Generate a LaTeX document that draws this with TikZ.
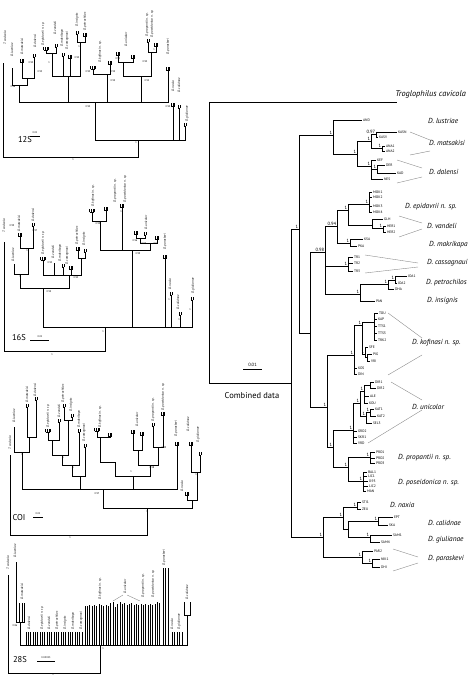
\documentclass[tikz,border=0pt]{standalone}
\usepackage{fontspec}
\setmainfont{PT Sans}
\usepackage{tikz}
\usetikzlibrary{positioning}

\tikzset{
  br/.style={line width=0.75pt},
  lbr/.style={line width=0.5pt},
  tip/.style={anchor=west,inner sep=0.8pt,font=\fontsize{3.6}{4}\selectfont},
  sup/.style={anchor=south east,inner sep=0.6pt,font=\fontsize{4.6}{5}\selectfont},
  spc/.style={anchor=west,inner sep=0pt,font=\fontsize{7.3}{8}\selectfont\itshape},
  rsp/.style={anchor=west,rotate=90,inner sep=0pt,font=\fontsize{3.3}{3.5}\selectfont\itshape},
  lsup/.style={inner sep=0pt,font=\fontsize{2.6}{3}\selectfont},
  panel/.style={inner sep=0pt,font=\fontsize{8.5}{9}\selectfont},
  gline/.style={black!45,line width=0.4pt},
}
% small multi-tip fork at the top of a branch: x, y, number of tips
\newcommand{\fork}[3]{%
  \draw[lbr] ({#1-(#3-1)*0.8},#2) -- ({#1+(#3-1)*0.8},#2);
  \foreach \k in {1,...,#3}{\draw[lbr] ({#1-(#3-1)*0.8+(\k-1)*1.6},#2) -- ++(0,-2.6);}}

\begin{document}
\begin{tikzpicture}[x=1pt,y=-1pt]
\useasboundingbox (0,0) rectangle (474,676);

%%%%%%%%%%%%%%%% combined data %%%%%%%%%%%%%%%%
\foreach \n/\x/\y in {root/209/102, trog/397/102, ingr/291/383, nA/299/229, nB/333/135,
  nC/357/154, nMat/371/141, nKas/376/134, nAna/382/148, nDal/371/166, nDer/377/169,
  nFo/310/333, nF/325/252, nG/337/226, nH/348/210, nMok/369/204, nVan/372/225,
  nHer/383/228, nMak/350/243, nTr/348/266, nPI/360/294, nJ/388/284, nJoa/395/280,
  nK/327/407, nL/354/355, nNo/362/325, nTou/374/322, nSfe/365/354, nPig/367/357,
  nP/333/447, nQ/353/430, nR/360/403, nS/364/391, nDir/370/385, nT/366/416,
  nKat/370/412, nW/348/467, nPro/370/457, nPos/363/481, nGr/323/537, nNx/343/517,
  nNax/357/507, nCs/348/529, nEpt/378/521, nSam/370/537, nPar/362/557, nNik/372/563}
  \coordinate (\n) at (\x,\y);

% tip labels
\foreach \n/\x/\y in {AND/362/120, KASN/397/132, KASV/378/137, ANA1/385/146, ANA2/385/151,
  KEF/376/160, DER/385/165, KAD/396/173, NES/383/179, MOK1/372/192, MOK2/372/197,
  MOK3/372/206, MOK4/372/212, GLH/383/219, HER1/386/226, HER2/386/232, KSA/363/239,
  PKA/357/246, TR1/353/257, TR2/353/263, TR3/353/271, JOA1/407/276, JOA2/397/283,
  DHA/394/289, PAN/375/301, TOU/378/313, KAP/377/319, TTS1/377/326, TTS3/377/333,
  TRK2/377/340, SFE/368/347, PIG/372/354, VRI/370/361, KOS/357/368, DIN/357/374,
  DIR1/374/382, DIR2/376/388, ALE/369/396, KOU/368/403, KAT1/374/409, KAT2/376/416,
  SEL3/372/423, GRO2/357/431, SKR1/357/437, VRD/357/443, PRO1/375/452, PRO2/375/458,
  PRO3/375/463, BAL1/367/472, LIC1/367/476, LIC2/368/486, MAN/366/491, STI1/361/502,
  ZEU/361/509, EPT/393/517, SKA/388/525, SAM1/392/535, SAM4/380/542, PAR2/373/551,
  NIK1/380/559, DHI/380/567}
  \node[tip] (\n) at (\x,\y) {\n};
\node[tip] (tns) at (368,481) {0.93};

% branches
\foreach \p/\c in {root/trog, root/ingr, ingr/nA, ingr/nGr, nA/nB, nA/nFo, nB/AND, nB/nC,
  nC/nMat, nC/nDal, nMat/nKas, nMat/nAna, nKas/KASN, nKas/KASV, nAna/ANA1, nAna/ANA2,
  nDal/KEF, nDal/nDer, nDal/NES, nDer/DER, nDer/KAD, nFo/nF, nFo/nK, nF/nG, nF/nTr, nF/nPI,
  nG/nH, nG/nMak, nH/nMok, nH/nVan, nMok/MOK1, nMok/MOK2, nMok/MOK3, nMok/MOK4,
  nVan/GLH, nVan/nHer, nHer/HER1, nHer/HER2, nMak/KSA, nMak/PKA, nTr/TR1, nTr/TR2, nTr/TR3,
  nPI/nJ, nPI/PAN, nJ/nJoa, nJ/DHA, nJoa/JOA1, nJoa/JOA2, nK/nL, nK/nP, nL/nNo, nL/KOS,
  nL/DIN, nNo/nTou, nNo/nSfe, nTou/TOU, nTou/KAP, nTou/TTS1, nTou/TTS3, nTou/TRK2,
  nSfe/SFE, nSfe/nPig, nPig/PIG, nPig/VRI, nP/nQ, nP/nW, nQ/nR, nQ/GRO2, nQ/SKR1, nQ/VRD,
  nR/nS, nR/nT, nS/nDir, nS/ALE, nS/KOU, nDir/DIR1, nDir/DIR2, nT/nKat, nT/SEL3,
  nKat/KAT1, nKat/KAT2, nW/nPro, nW/nPos, nPro/PRO1, nPro/PRO2, nPro/PRO3, nPos/BAL1,
  nPos/LIC1, nPos/tns, nPos/LIC2, nPos/MAN, nGr/nNx, nGr/nPar, nNx/nNax, nNx/nCs,
  nNax/STI1, nNax/ZEU, nCs/nEpt, nCs/nSam, nEpt/EPT, nEpt/SKA, nSam/SAM1, nSam/SAM4,
  nPar/PAR2, nPar/nNik, nNik/NIK1, nNik/DHI}
  \draw[br] (\p) |- (\c);

% support values
\foreach \n/\t in {nA/1, nB/1, nC/1, nMat/1, nKas/0.97, nAna/1, nDal/1, nDer/1, nF/0.98,
  nG/0.94, nH/1, nMok/1, nHer/1, nMak/1, nTr/1, nPI/1, nJ/1, nJoa/1, nK/1, nL/1, nNo/1,
  nSfe/1, nP/1, nQ/1, nR/1, nS/1, nT/1, nKat/1, nW/1, nPro/1, nPos/1, nGr/1, nNx/1,
  nNax/1, nEpt/1, nSam/1, nPar/1, nNik/1}
  \node[sup] at (\n) {\t};

% species names
\node[spc,anchor=south east,font=\fontsize{8.3}{9}\selectfont\itshape] at (466,98) {Troglophilus cavicola};
\foreach \x/\y/\t in {428/121/D. lustriae, 429/143/D. matsakisi, 429/172/D. dalensi,
  405/207/D. epidavrii n. sp., 427/226/D. vandeli, 429/245/D. makrikapa,
  427/263/D. cassagnaui, 426/283/D. petrochilos, 427/301/D. insignis,
  412/343/D. kofinasi n. sp., 412/407/D. unicolor, 398/458/D. propantii n. sp.,
  398/483/D. poseidonica n. sp., 390/505/D. naxia, 428/523/D. calidnae,
  428/540/D. giulianae, 428/559/D. paraskevi}
  \node[spc] at (\x,\y) {\t};

% leader lines
\foreach \a/\b/\c/\d in {410/132/430/140, 410/155/430/151, 397/160/422/168, 397/183/422/177,
  399/216/422/223, 399/237/422/229, 365/255/418/263, 365/273/418/267, 388/313/422/338,
  388/375/422/355, 391/382/422/400, 368/443/422/410, 393/549/418/557, 393/571/418/563}
  \draw[gline] (\a,\b) -- (\c,\d);

\draw[br] (243,369) -- (262,369);
\node[sup,anchor=south] at (252.5,367) {0.01};
\node[panel] at (252,396) {Combined data};

%%%%%%%%%%%%%%%% 12S %%%%%%%%%%%%%%%%
\foreach \a/\b/\c/\d in {3/157/3/63, 3/157/138/140, 138/140/95/102, 138/140/173/106,
  138/140/179/108, 138/140/185/126, 95/102/19/85, 95/102/68/76, 95/102/107/74,
  95/102/141/76, 95/102/168/70, 19/85/12/68, 19/85/27/78, 27/78/22/62, 27/78/34/57,
  68/76/52/53, 68/76/63/56, 68/76/70/58, 68/76/80/42, 52/53/46/50, 52/53/56/47,
  80/42/77/34, 80/42/85/36, 107/74/93/69, 107/74/110/64, 141/76/123/62, 141/76/151/52,
  123/62/118/55, 123/62/133/58, 151/52/148/42, 151/52/156/46}
  \draw[lbr] (\a,\b) -| (\c,\d);
\foreach \x/\y/\n in {22/62/3, 34/57/2, 46/50/4, 56/47/2, 63/56/2, 70/58/3, 77/34/2,
  85/36/3, 93/69/4, 110/64/3, 118/55/3, 133/58/3, 148/42/2, 156/46/3, 168/70/3,
  173/106/3, 179/108/2, 185/126/2}
  \fork{\x}{\y}{\n};
\foreach \x/\y/\t in {5/45/T. cavicola, 12/57/D. lustriae, 22/55/D. matsakisi,
  35/48/D. dalensi, 43/46/D. epidavrii n. sp., 55/35/D. vandeli, 62/47/D. makrikapa,
  67/50/D. cassagnaui, 77/27/D. insignis, 85/31/D. petrochilos, 100/63/D. kofinasi n. sp.,
  126/47/D. unicolor, 147/37/D. propantii n. sp., 152/38/D. poseidonica n. sp.,
  168/55/D. paraskevi, 173/92/D. naxia, 179/93/D. calidnae, 187/122/D. giulianae}
  \node[rsp] at (\x,\y) {\t};
\foreach \x/\y/\t in {13/87/0.96, 31/63/0.90, 40/72/0.95, 49/63/1, 77/58/0.90, 79/47/1,
  88/72/0.90, 113/72/0.93, 113/81/0.93, 118/59/0.91, 145/62/0.90, 154/50/1, 147/81/0.92,
  88/107/0.90, 168/107/0.90, 136/143/1, 73/160/1}
  \node[lsup] at (\x,\y) {\t};
\node[panel] at (25,140) {12S};
\draw[lbr] (30,136) -- (40,136);
\node[lsup] at (35,133) {0.01};

%%%%%%%%%%%%%%%% 16S %%%%%%%%%%%%%%%%
\foreach \a/\b/\c/\d in {4/351/4/242, 4/351/105/327, 105/327/43/288, 105/327/132/250,
  105/327/165/258, 105/327/171/295, 105/327/180/315, 105/327/192/300, 43/288/20/274,
  43/288/69/275, 20/274/14/264, 20/274/28/248, 28/248/20/236, 28/248/33/226,
  69/275/43/260, 69/275/54/263, 69/275/63/267, 69/275/71/269, 69/275/81/258,
  81/258/78/250, 81/258/85/252, 132/250/100/221, 132/250/122/207, 132/250/150/243,
  100/221/92/212, 100/221/106/210, 150/243/140/238, 150/243/157/239, 140/238/136/234,
  140/238/145/235}
  \draw[lbr] (\a,\b) -| (\c,\d);
\foreach \x/\y/\n in {20/236/3, 33/226/2, 43/260/4, 63/267/2, 71/269/3, 78/250/3,
  85/252/2, 92/212/4, 106/210/3, 122/207/3, 136/234/3, 145/235/2, 157/239/3, 165/258/3,
  171/295/2, 180/315/2, 192/300/2}
  \fork{\x}{\y}{\n};
\foreach \x/\y/\t in {4/233/T. cavicola, 13/262/D. lustriae, 19/232/D. matsakisi,
  33/222/D. dalensi, 43/255/D. epidavrii n. sp., 53/259/D. vandeli, 60/262/D. makrikapa,
  67/265/D. cassagnaui, 77/245/D. petrochilos, 84/246/D. insignis,
  93/207/D. kofinasi n. sp., 115/203/D. propantii n. sp., 125/203/D. poseidonica n. sp.,
  146/230/D. unicolor, 165/250/D. paraskevi, 170/290/D. naxia, 178/310/D. calidnae,
  193/294/D. giulianae}
  \node[rsp] at (\x,\y) {\t};
\foreach \x/\y/\t in {12/226/0.99, 35/231/0.97, 27/251/1, 20/277/1, 49/292/0.93,
  76/278/0.90, 50/263/0.90, 98/224/0.99, 138/254/0.99, 135/241/0.96, 144/244/0.93,
  156/244/0.97, 121/212/1, 169/300/1, 179/320/1, 190/310/1, 103/332/1, 52/355/1}
  \node[lsup] at (\x,\y) {\t};
\node[panel] at (19,338) {16S};
\draw[lbr] (30,340) -- (49,340);
\node[lsup] at (40,337) {0.01};

%%%%%%%%%%%%%%%% COI %%%%%%%%%%%%%%%%
\foreach \a/\b/\c/\d in {10/535/10/455, 10/535/147/508, 147/508/103/489, 147/508/192/500,
  192/500/187/495, 192/500/197/472, 197/472/191/445, 197/472/200/455, 103/489/22/452,
  103/489/80/476, 103/489/133/476, 103/489/177/445, 22/452/14/427, 22/452/29/437,
  29/437/27/407, 29/437/36/400, 80/476/72/465, 80/476/85/447, 72/465/62/455,
  72/465/79/432, 62/455/52/440, 62/455/68/420, 68/420/64/407, 68/420/72/417,
  52/440/48/432, 52/440/59/422, 133/476/115/462, 133/476/150/465, 115/462/100/437,
  100/437/97/431, 100/437/110/436, 150/465/138/450, 150/465/158/447, 138/450/133/433,
  138/450/142/435, 158/447/153/426, 158/447/163/415}
  \draw[lbr] (\a,\b) -| (\c,\d);
\foreach \x/\y/\n in {27/407/2, 36/400/2, 48/432/4, 59/422/2, 64/407/2, 72/417/2,
  79/432/2, 85/447/2, 97/431/4, 110/436/3, 133/433/3, 142/435/3, 153/426/2, 163/415/3,
  177/445/3, 187/495/3, 191/445/3, 200/455/2}
  \fork{\x}{\y}{\n};
\foreach \x/\y/\t in {10/450/T. cavicola, 14/423/D. lustriae, 27/403/D. matsakisi,
  35/397/D. dalensi, 48/428/D. epidavrii n. sp., 59/418/D. vandeli,
  63/403/D. petrochilos, 71/412/D. insignis, 79/428/D. makrikapa, 84/442/D. cassagnaui,
  100/428/D. kofinasi n. sp., 137/427/D. unicolor, 153/422/D. propantii n. sp.,
  163/411/D. poseidonica n. sp., 176/437/D. paraskevi, 188/432/D. calidnae,
  198/443/D. giulianae, 182/492/D. naxia}
  \node[rsp] at (\x,\y) {\t};
\foreach \x/\y/\t in {22/455/1, 97/494/0.97, 131/472/1, 164/448/0.99, 152/468/0.98,
  147/512/1, 70/538/1, 73/468/1, 63/458/1, 196/475/1}
  \node[lsup] at (\x,\y) {\t};
\node[panel] at (19,518) {COI};
\draw[lbr] (33,517) -- (43,517);
\node[lsup] at (38,514) {0.01};

%%%%%%%%%%%%%%%% 28S %%%%%%%%%%%%%%%%
\foreach \a/\b/\c/\d in {8/673/8/575, 8/673/100/645, 100/645/20/622, 20/622/16/562,
  20/622/19/603, 20/622/22/603, 20/622/24/603, 100/645/187/615, 187/615/184/602,
  187/615/190/602}
  \draw[lbr] (\a,\b) -| (\c,\d);
% comb of short tips
\foreach \x in {26,28.33,...,83}
  \draw[lbr] (\x,645) -- (\x,632);
\foreach \x/\h in {85/606, 87.3/606, 89.7/605, 92/606, 94.3/605, 96.7/606, 99/604,
  101.3/605, 103.7/606, 106/605, 108.3/606, 110.7/603, 113/602, 115.3/607, 117.7/604,
  120/602, 122.3/604, 124.7/603, 127/605, 129.3/604, 131.7/603, 134/605, 136.3/604,
  138.7/605, 141/604, 143.3/605, 145.7/604, 148/605, 150.3/604, 152.7/605, 155/604,
  157.3/602, 159.7/603}
  \draw[lbr] (\x,645) -- (\x,\h);
\foreach \x in {163,165.5,168}
  \draw[lbr] (\x,645) -- (\x,568);
\foreach \x in {172,174.5,177,179.5,182}
  \draw[lbr] (\x,645) -- (\x,632);
\foreach \x/\y/\t in {8/570/T. cavicola, 15/558/D. lustriae, 22/600/D. matsakisi,
  29/630/D. dalensi, 42/630/D. epidavrii n. sp., 49/630/D. vandeli,
  57/630/D. petrochilos, 65/630/D. insignis, 73/630/D. makrikapa, 81/630/D. cassagnaui,
  100/600/D. kofinasi n. sp., 125/594/D. unicolor, 143/598/D. propantii n. sp.,
  153/598/D. poseidonica n. sp., 164/566/D. paraskevi, 187/600/D. calidnae,
  172/630/D. naxia, 179/630/D. giulianae}
  \node[rsp] at (\x,\y) {\t};
\draw[gline] (123,595) -- (113,601);
\draw[gline] (127,595) -- (140,601);
\foreach \x/\y/\t in {15/626/0.86, 103/649/1, 53/675/1}
  \node[lsup] at (\x,\y) {\t};
\node[panel] at (20,660) {28S};
\draw[lbr] (37,661) -- (55,661);
\node[lsup] at (46,657.5) {0.00035};
\end{tikzpicture}
\end{document}
